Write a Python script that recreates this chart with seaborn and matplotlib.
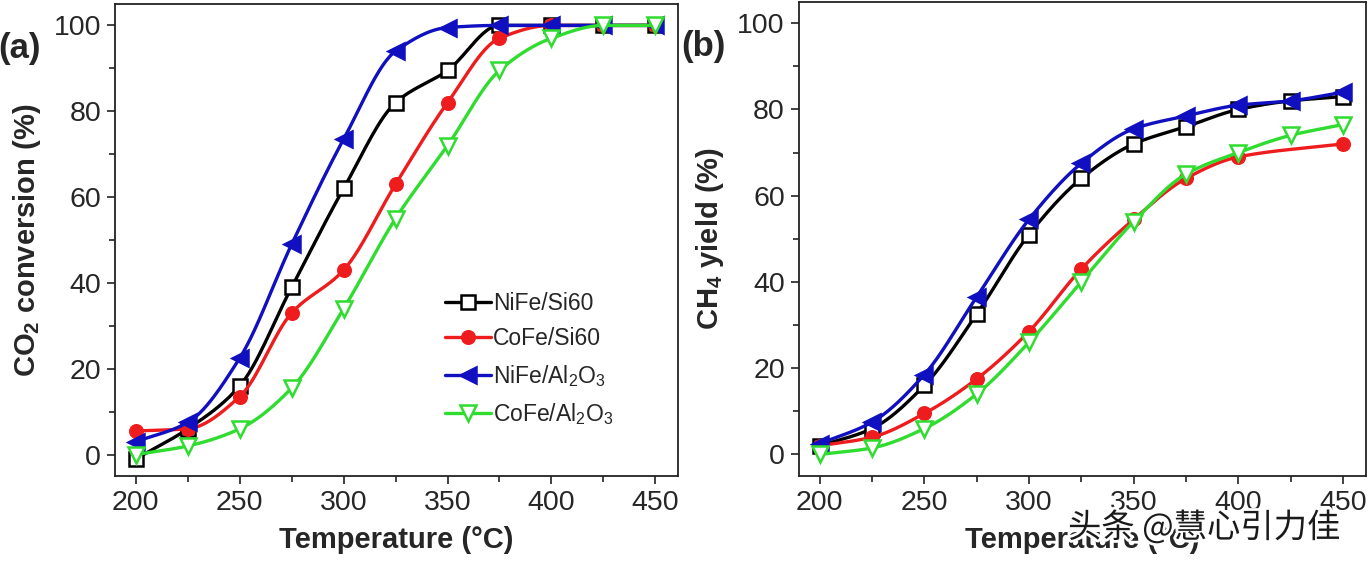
import numpy as np
import pandas as pd
import matplotlib
matplotlib.use("Agg")
import matplotlib.pyplot as plt
import matplotlib.patheffects as pe
from matplotlib.ticker import MultipleLocator
import seaborn as sns

# ===== DATA =====
temperature = [200, 225, 250, 275, 300, 325, 350, 375, 400, 425, 450]
series_names = ['NiFe/Si60', 'CoFe/Si60', 'NiFe/Al$_2$O$_3$', 'CoFe/Al$_2$O$_3$']

# (a) CO2 conversion (%)
co2_nife_si60 = [-1, 6, 16, 39, 62, 82, 89.5, 100, 100, 100, 100]
co2_cofe_si60 = [5.5, 6, 13.5, 33, 43, 63, 82, 97, 100, 100, 100]
co2_nife_al2o3 = [3, 7.5, 22.5, 49, 73.5, 94, 99.5, 100, 100, 100, 100]
co2_cofe_al2o3 = [0, 2, 6, 15.5, 34, 55, 72, 89.5, 97, 100, 100]

# (b) CH4 yield (%)
ch4_nife_si60 = [2, 6, 16, 32.5, 51, 64, 72, 76, 80, 82, 83]
ch4_cofe_si60 = [2, 4, 9.5, 17.5, 28.5, 43, 54.5, 64, 69, np.nan, 72]
ch4_nife_al2o3 = [2.5, 7.5, 18.5, 36.5, 54.5, 67.5, 75.5, 78.5, 81, 82, 84]
ch4_cofe_al2o3 = [0, 1.5, 6, 14, 26, 40, 54, 65, 70, 74, 76.5]

# ===== STYLE =====
colors = ['#000000', '#ee1c1c', '#1010c0', '#2fdc2f']
markers = ['s', 'o', '<', 'v']
face = ['white', '#ee1c1c', '#1010c0', 'white']
msize = [10, 9, 11, 12]

sns.set_style("ticks")
plt.rcParams['font.family'] = ['Liberation Sans', 'DejaVu Sans']
plt.rcParams['mathtext.default'] = 'regular'


def smooth(x, y, n=300):
    # monotone cubic hermite curve through the measured points (line drawing only)
    x = np.asarray(x, float)
    y = np.asarray(y, float)
    ok = ~np.isnan(y)
    x, y = x[ok], y[ok]
    h = np.diff(x)
    d = np.diff(y) / h
    m = np.zeros_like(y)
    m[0], m[-1] = d[0], d[-1]
    for i in range(1, len(y) - 1):
        if d[i - 1] * d[i] <= 0:
            m[i] = 0
        else:
            w1 = 2 * h[i] + h[i - 1]
            w2 = h[i] + 2 * h[i - 1]
            m[i] = (w1 + w2) / (w1 / d[i - 1] + w2 / d[i])
    xs = np.linspace(x[0], x[-1], n)
    idx = np.clip(np.searchsorted(x, xs) - 1, 0, len(x) - 2)
    t = (xs - x[idx]) / h[idx]
    h00 = 2 * t**3 - 3 * t**2 + 1
    h10 = t**3 - 2 * t**2 + t
    h01 = -2 * t**3 + 3 * t**2
    h11 = t**3 - t**2
    ys = h00 * y[idx] + h10 * h[idx] * m[idx] + h01 * y[idx + 1] + h11 * h[idx] * m[idx + 1]
    return xs, ys


def draw_panel(ax, data, ylabel, tag, legend=False):
    for i, (name, vals) in enumerate(zip(series_names, data)):
        xs, ys = smooth(temperature, vals)
        sns.lineplot(x=xs, y=ys, ax=ax, color=colors[i], linewidth=2.4,
                     sort=False, estimator=None, legend=False, zorder=2 + i)
        df = pd.DataFrame({'T': temperature, 'v': vals}).dropna()
        ax.plot(df['T'], df['v'], linestyle='none', marker=markers[i],
                markersize=msize[i], markerfacecolor=face[i],
                markeredgecolor=colors[i], markeredgewidth=1.8, zorder=3 + i)
        if legend:
            ax.plot([], [], color=colors[i], linewidth=2.4, marker=markers[i],
                    markersize=msize[i], markerfacecolor=face[i],
                    markeredgecolor=colors[i], markeredgewidth=1.8, label=name)

    ax.set_xlim(190, 461)
    ax.set_ylim(-5, 105)
    ax.xaxis.set_major_locator(MultipleLocator(50))
    ax.xaxis.set_minor_locator(MultipleLocator(25))
    ax.yaxis.set_major_locator(MultipleLocator(20))
    ax.yaxis.set_minor_locator(MultipleLocator(10))
    ax.tick_params(which='major', direction='out', length=6, width=1.2,
                   labelsize=20.5, pad=4, color='#222222')
    ax.tick_params(which='minor', direction='out', length=4, width=1.2, color='#222222')
    for s in ax.spines.values():
        s.set_visible(True)
        s.set_linewidth(1.3)
        s.set_color('#222222')

    ax.set_xlabel('Temperature (°C)', fontsize=21, fontweight='bold', labelpad=7)
    ax.set_ylabel(ylabel, fontsize=21, fontweight='bold', labelpad=8)
    ax.text(-0.207, 0.905, tag, transform=ax.transAxes, fontsize=25,
            fontweight='bold', ha='left', va='center')

    if legend:
        ax.legend(loc='upper left', bbox_to_anchor=(0.565, 0.415), frameon=False,
                  fontsize=16.5, handlelength=2.0, handletextpad=0.12,
                  labelspacing=0.55, borderpad=0)
    elif ax.get_legend() is not None:
        ax.get_legend().remove()


fig = plt.figure(figsize=(13.7, 5.64), dpi=100)
ax1 = fig.add_axes([0.084, 0.156, 0.411, 0.837])
ax2 = fig.add_axes([0.583, 0.156, 0.414, 0.841])

draw_panel(ax1, [co2_nife_si60, co2_cofe_si60, co2_nife_al2o3, co2_cofe_al2o3],
           'CO$_2$ conversion (%)', '(a)', legend=True)
draw_panel(ax2, [ch4_nife_si60, ch4_cofe_si60, ch4_nife_al2o3, ch4_cofe_al2o3],
           'CH$_4$ yield (%)', '(b)')

# watermark
fig.text(1068 / 1370, 1 - 528 / 564, '头条 @慧心引力佳', fontsize=24,
         family=['Noto Sans CJK SC', 'DejaVu Sans'], color='#1a1a1a',
         ha='left', va='center', zorder=10,
         path_effects=[pe.withStroke(linewidth=4, foreground='white')])

fig.savefig('out.png', dpi=100)
